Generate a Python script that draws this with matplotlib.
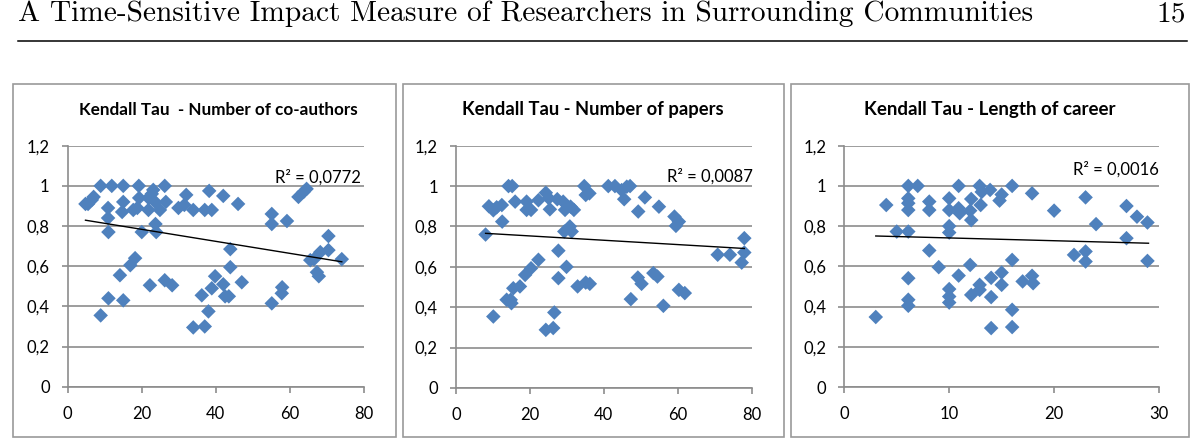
import matplotlib
matplotlib.use("Agg")
from matplotlib import pyplot as plt
from matplotlib.patches import Rectangle
from matplotlib.lines import Line2D

W, H = 1204, 445

# --- data ---
coauth_x = [4.8, 5.5, 6.5, 7.0, 8.9, 11.9, 15.0, 19.2, 26.2, 10.9, 10.9, 11.0,
            15.0, 14.7, 17.7, 18.8, 19.3, 20.0, 21.8, 21.8, 22.7, 23.1, 23.6, 23.7,
            23.9, 24.9, 26.5, 29.9, 31.5, 32.0, 33.9, 37.0, 38.2, 38.9, 42.0, 46.0,
            55.1, 55.1, 59.2, 62.3, 63.7, 64.5, 14.1, 16.9, 18.2, 11.0, 15.0, 8.9,
            22.2, 26.2, 28.2, 36.2, 33.9, 37.0, 38.0, 38.9, 39.8, 42.0, 42.5, 43.5,
            43.9, 43.9, 47.0, 55.1, 57.8, 57.9, 65.5, 66.5, 68.2, 67.3, 67.8, 70.4,
            70.4, 74.0]
coauth_y = [0.91, 0.91, 0.93, 0.945, 1.0, 1.0, 1.0, 1.0, 1.0, 0.89, 0.84, 0.77,
            0.92, 0.87, 0.88, 0.89, 0.94, 0.77, 0.88, 0.94, 0.96, 0.98, 0.92, 0.81,
            0.77, 0.88, 0.92, 0.89, 0.905, 0.955, 0.88, 0.88, 0.975, 0.88, 0.95, 0.91,
            0.86, 0.81, 0.825, 0.945, 0.97, 0.985, 0.555, 0.605, 0.64, 0.44, 0.43, 0.355,
            0.505, 0.53, 0.505, 0.455, 0.295, 0.30, 0.375, 0.49, 0.55, 0.51, 0.45, 0.45,
            0.595, 0.685, 0.52, 0.415, 0.465, 0.495, 0.63, 0.635, 0.67, 0.57, 0.55, 0.75,
            0.68, 0.635]

papers_x = [8.0, 8.9, 10.1, 11.0, 12.4, 12.5, 10.1, 14.2, 15.2, 16.0, 19.1, 19.1,
            20.3, 22.3, 24.3, 25.1, 25.4, 27.4, 29.0, 29.5, 31.0, 31.9, 29.3, 30.8,
            31.3, 34.7, 35.1, 36.1, 41.2, 43.0, 44.8, 45.5, 46.2, 47.1, 49.3, 51.1,
            54.9, 59.1, 59.5, 60.3, 27.7, 29.9, 27.7, 22.3, 20.3, 18.7, 17.3, 15.5,
            13.7, 14.8, 15.0, 24.3, 26.3, 26.6, 32.9, 35.1, 36.2, 47.3, 49.2, 50.2,
            53.4, 54.5, 56.1, 60.3, 61.9, 70.8, 74.1, 77.3, 78.0, 78.0]
papers_y = [0.76, 0.90, 0.88, 0.895, 0.906, 0.824, 0.354, 1.0, 1.0, 0.923, 0.923, 0.882,
            0.882, 0.93, 0.967, 0.94, 0.885, 0.935, 0.923, 0.882, 0.898, 0.882, 0.775, 0.80,
            0.775, 1.0, 0.956, 0.964, 1.0, 1.0, 0.98, 0.935, 0.997, 1.0, 0.874, 0.944,
            0.898, 0.849, 0.803, 0.824, 0.68, 0.60, 0.544, 0.635, 0.593, 0.56, 0.503, 0.494,
            0.437, 0.437, 0.42, 0.288, 0.297, 0.374, 0.503, 0.522, 0.516, 0.44, 0.547, 0.516,
            0.569, 0.552, 0.407, 0.486, 0.47, 0.66, 0.66, 0.621, 0.671, 0.742]

career_x = [3.0, 4.0, 5.0, 6.1, 6.1, 6.1, 6.1, 6.1, 6.1, 6.1, 6.1, 7.0,
            8.1, 8.1, 8.1, 9.0, 10.0, 10.0, 10.0, 10.0, 10.0, 10.0, 10.0, 10.9,
            10.9, 11.0, 10.9, 12.0, 12.1, 12.1, 12.0, 12.1, 12.9, 13.0, 13.1, 12.9,
            12.9, 13.9, 14.0, 14.0, 14.0, 14.8, 15.0, 15.0, 15.0, 16.0, 16.0, 16.0,
            16.0, 17.0, 17.9, 17.9, 18.0, 20.0, 21.9, 23.0, 23.0, 23.0, 24.0, 26.9,
            26.9, 27.9, 28.9, 28.9]
career_y = [0.348, 0.905, 0.773, 1.0, 0.938, 0.914, 0.88, 0.773, 0.541, 0.434, 0.404, 1.0,
            0.922, 0.88, 0.679, 0.596, 0.938, 0.88, 0.80, 0.768, 0.487, 0.45, 0.42, 1.0,
            0.889, 0.864, 0.554, 0.877, 0.83, 0.935, 0.607, 0.458, 1.0, 0.905, 0.97, 0.508,
            0.483, 0.98, 0.543, 0.447, 0.293, 0.927, 0.957, 0.508, 0.569, 1.0, 0.632, 0.384,
            0.298, 0.525, 0.963, 0.553, 0.516, 0.877, 0.657, 0.943, 0.674, 0.624, 0.81, 0.90,
            0.74, 0.847, 0.818, 0.627]

# trend line ends and R^2 labels, as shown
coauth_trend_x, coauth_trend_y = [4.8, 74.0], [0.829, 0.622]
papers_trend_x, papers_trend_y = [8.0, 78.0], [0.766, 0.691]
career_trend_x, career_trend_y = [3.0, 29.0], [0.751, 0.715]

titles = ["Kendall Tau  - Number of co-authors",
          "Kendall Tau - Number of papers",
          "Kendall Tau - Length of career"]
r2_labels = ["R² = 0,0772", "R² = 0,0087", "R² = 0,0016"]
y_ticks = [0, 0.2, 0.4, 0.6, 0.8, 1.0, 1.2]
y_ticklabels = ["0", "0,2", "0,4", "0,6", "0,8", "1", "1,2"]

panels = [
    dict(x=coauth_x, y=coauth_y, tx=coauth_trend_x, ty=coauth_trend_y,
         xmax=80, xticks=[0, 20, 40, 60, 80], box=(13, 396), ax=(67.7, 364, 145.7, 386.7),
         title=titles[0], tsize=12.3, tcx=218, r2=r2_labels[0], r2pos=(79.2, 1.04)),
    dict(x=papers_x, y=papers_y, tx=papers_trend_x, ty=papers_trend_y,
         xmax=80, xticks=[0, 20, 40, 60, 80], box=(403, 784), ax=(456, 751.7, 145.7, 388),
         title=titles[1], tsize=13.2, tcx=593, r2=r2_labels[1], r2pos=(80.4, 1.05)),
    dict(x=career_x, y=career_y, tx=career_trend_x, ty=career_trend_y,
         xmax=30, xticks=[0, 10, 20, 30], box=(791, 1189), ax=(844.3, 1159, 145.7, 387),
         title=titles[2], tsize=13.5, tcx=990, r2=r2_labels[2], r2pos=(30.0, 1.08)),
]

blue = "#4F81BD"
grid_c = "#8C8C8C"
font = "Lato"

fig = plt.figure(figsize=(W / 100, H / 100), dpi=100)

# page header
fig.text(18 / W, 1 - 21 / H, "A Time-Sensitive Impact Measure of Researchers in Surrounding Communities",
         family="cmr10", fontsize=21.2, ha="left", va="baseline")
fig.text(1186 / W, 1 - 21 / H, "15", family="cmr10", fontsize=21.2, ha="right", va="baseline")
fig.add_artist(Line2D([18 / W, 1187 / W], [1 - 41 / H, 1 - 41 / H], color="black", lw=1.1))

for p in panels:
    x0, x1 = p["box"]
    fig.add_artist(Rectangle((x0 / W, 1 - 437 / H), (x1 - x0) / W, (437 - 84) / H,
                             fill=False, edgecolor="#9A9A9A", lw=1.2, transform=fig.transFigure))
    l, r, t, b = p["ax"]
    ax = fig.add_axes([l / W, 1 - b / H, (r - l) / W, (b - t) / H])
    ax.set_xlim(0, p["xmax"])
    ax.set_ylim(0, 1.2)
    ax.set_xticks(p["xticks"])
    ax.set_yticks(y_ticks)
    ax.set_yticklabels(y_ticklabels)
    ax.grid(axis="y", color=grid_c, lw=1.2)
    ax.set_axisbelow(True)
    for s in ["top", "right"]:
        ax.spines[s].set_visible(False)
    for s in ["left", "bottom"]:
        ax.spines[s].set_color(grid_c)
        ax.spines[s].set_linewidth(1.2)
    ax.tick_params(axis="both", colors=grid_c, labelcolor="black", length=4, width=1.2,
                   labelsize=12)
    ax.tick_params(axis="y", pad=9)
    ax.tick_params(axis="x", pad=10)
    for lab in ax.get_xticklabels() + ax.get_yticklabels():
        lab.set_family(font)
    ax.scatter(p["x"], p["y"], marker="D", s=55, color=blue, edgecolors="none", zorder=3,
               clip_on=False)
    ax.plot(p["tx"], p["ty"], color="black", lw=1, zorder=4)
    ax.text(p["r2pos"][0], p["r2pos"][1], p["r2"], ha="right", va="center",
            family=font, fontsize=12)
    fig.text(p["tcx"] / W, 1 - 110 / H, p["title"], ha="center", va="center",
             family=font, weight="bold", fontsize=p["tsize"])

fig.savefig("out.png", dpi=100)
